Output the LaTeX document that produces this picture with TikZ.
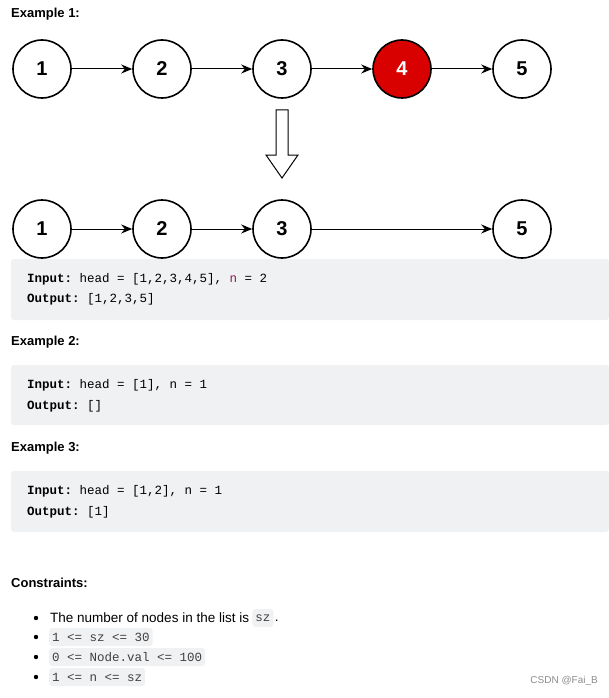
\documentclass[tikz,border=0pt]{standalone}
\usepackage{fontspec}
\setmainfont{Liberation Sans}
\setmonofont{Liberation Mono}
\usetikzlibrary{arrows.meta}
\definecolor{codebg}{HTML}{F0F1F2}
\definecolor{kw}{HTML}{8B1A5A}
\begin{document}
\begin{tikzpicture}[x=1pt,y=-1pt,
  ln/.style={circle,draw,line width=1.6pt,minimum size=58pt,inner sep=0pt,font=\fontsize{20}{22}\selectfont\bfseries},
  red/.style={ln,fill=red!85!black,text=white},
  arr/.style={-{Stealth[length=11pt,width=9pt]},line width=1pt},
  lbl/.style={anchor=west,inner sep=0pt,font=\fontsize{13}{15}\selectfont\bfseries},
  code/.style={anchor=west,inner sep=0pt,font=\ttfamily\fontsize{12.5}{14}\selectfont},
  cbox/.style={fill=codebg,rounded corners=3pt},
  txt/.style={anchor=west,inner sep=0pt,font=\fontsize{13.5}{15}\selectfont},
  chip/.style={fill=codebg,rounded corners=3pt,inner sep=3pt,anchor=west,font=\ttfamily\fontsize{12.5}{14}\selectfont,text=black!75,minimum height=18pt}]
\useasboundingbox (0,0) rectangle (609,698);
\node[lbl] (e1) at (11,14) {Example 1:};
\foreach \i/\x in {1/42,2/162,3/282,5/522} \node[ln] (a\i) at (\x,69) {\i};
\node[red] (a4) at (402,69) {4};
\draw[arr] (a1)--(a2); \draw[arr] (a2)--(a3); \draw[arr] (a3)--(a4); \draw[arr] (a4)--(a5);
\draw[line width=1pt,fill=white] (276,110)--(288,110)--(288,155)--(298,155)--(282,178)--(266,155)--(276,155)--cycle;
\foreach \i/\x in {1/42,2/162,3/282,5/522} \node[ln] (b\i) at (\x,229) {\i};
\draw[arr] (b1)--(b2); \draw[arr] (b2)--(b3); \draw[arr] (b3)--(b5);
\fill[cbox] (11,259) rectangle (609,320);
\node[code] (i1) at (27,279) {\textbf{Input:} head = [1,2,3,4,5], \textcolor{kw}{n} = 2};
\node[code] (o1) at (27,299) {\textbf{Output:} [1,2,3,5]};
\node[lbl] (e2) at (11,342) {Example 2:};
\fill[cbox] (11,365) rectangle (609,425);
\node[code] (i2) at (27,385) {\textbf{Input:} head = [1], n = 1};
\node[code] (o2) at (27,406) {\textbf{Output:} []};
\node[lbl] (e3) at (11,448) {Example 3:};
\fill[cbox] (11,471) rectangle (609,532);
\node[code] (i3) at (27,491) {\textbf{Input:} head = [1,2], n = 1};
\node[code] (o3) at (27,512) {\textbf{Output:} [1]};
\node[lbl] (c) at (11,583) {Constraints:};
\foreach \y in {618,637,657,677} \fill (36,\y) circle (2.2pt);
\node[txt] (t1) at (50,618) {The number of nodes in the list is};
\node[chip,xshift=3pt] (s1) at (t1.east) {sz};
\node[txt,anchor=base west,xshift=1pt] (p) at (s1.base east) {.};
\node[chip] (s2) at (49,637) {1 <= sz <= 30};
\node[chip] (s3) at (49,657) {0 <= Node.val <= 100};
\node[chip] (s4) at (49,677) {1 <= n <= sz};
\node[anchor=east,inner sep=0pt,font=\fontsize{10}{12}\selectfont,text=black!45] (w) at (598,681) {CSDN @Fai\_B};
\end{tikzpicture}
\end{document}
